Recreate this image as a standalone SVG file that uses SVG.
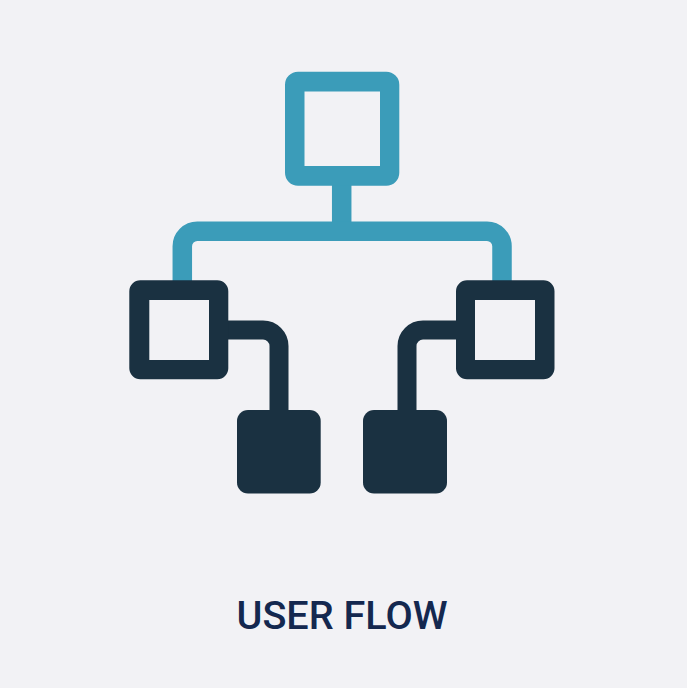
<svg xmlns="http://www.w3.org/2000/svg" width="687" height="688" viewBox="0 0 687 688">
<style>
.t{fill:#3b9cb9}.d{fill:#1a3141}.ct{fill:none;stroke:#3b9cb9;stroke-width:19.5}.cd{fill:none;stroke:#1a3141;stroke-width:19}
text{font-family:Roboto,"Liberation Sans",sans-serif;font-weight:500;font-size:39.6px;fill:#14284f;text-anchor:middle}
</style>
<rect width="687" height="688" fill="#f2f2f5"/>
<g id="connectors">
<path class="ct" d="M341.7 185V231.3"/>
<path class="ct" d="M182.3 284V246.3A15 15 0 0 1 197.3 231.3H487A15 15 0 0 1 502 246.3V284"/>
<path class="cd" d="M226 330H263A16 16 0 0 1 279 346V412"/>
<path class="cd" d="M458 330H423A16 16 0 0 0 407 346V412"/>
</g>
<g id="node-top"><path class="t" fill-rule="evenodd" d="M298 71.7H386.3A13 13 0 0 1 399.3 84.7V172.7A13 13 0 0 1 386.3 185.7H298A13 13 0 0 1 285 172.7V84.7A13 13 0 0 1 298 71.7ZM304.5 91.5V166H380V91.5Z"/></g>
<g id="node-left"><path class="d" fill-rule="evenodd" d="M140.3 280.3H217.3A11 11 0 0 1 228.3 291.3V368.3A11 11 0 0 1 217.3 379.3H140.3A11 11 0 0 1 129.3 368.3V291.3A11 11 0 0 1 140.3 280.3ZM149.3 300V360H209V300Z"/></g>
<g id="node-right"><path class="d" fill-rule="evenodd" d="M467 280.3H543.5A11 11 0 0 1 554.5 291.3V368.3A11 11 0 0 1 543.5 379.3H467A11 11 0 0 1 456 368.3V291.3A11 11 0 0 1 467 280.3ZM475 300V360H535V300Z"/></g>
<g id="node-left-child"><rect class="d" x="237" y="410" width="83.7" height="83.5" rx="11"/></g>
<g id="node-right-child"><rect class="d" x="363" y="410" width="84" height="83.5" rx="11"/></g>
<g id="label"><text x="342" y="629">USER FLOW</text></g>
</svg>
